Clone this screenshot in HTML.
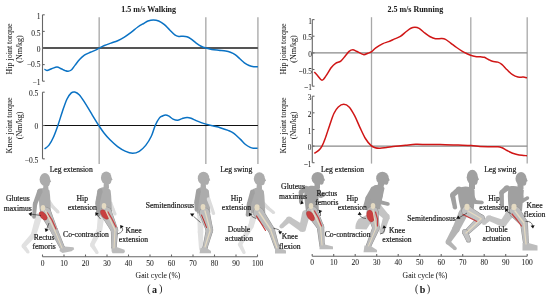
<!DOCTYPE html>
<html><head><meta charset="utf-8"><style>
html,body{margin:0;padding:0;background:#fff;width:550px;height:299px;overflow:hidden}
svg{display:block}
text{font-family:"Liberation Serif","Noto Serif CJK SC",serif;fill:#1a1a1a;stroke:#1a1a1a;stroke-width:0.04px}
</style></head><body>
<svg width="550" height="299" viewBox="0 0 550 299">
<rect width="550" height="299" fill="#fff"/>
<g fill="#e1e1e1"><polygon points="35.88,215.10 30.86,234.24 36.14,235.76 42.12,216.90"/><polygon points="31.47,233.15 21.95,244.59 25.05,247.41 35.53,236.85"/><polygon points="21.82,247.26 26.72,252.96 29.28,251.04 25.18,244.74"/><circle cx="39" cy="216" r="3.25"/><circle cx="33.5" cy="235" r="2.75"/><circle cx="23.5" cy="246" r="2.10"/><circle cx="28" cy="252" r="1.60"/></g><g fill="#dcdcdc"><polygon points="46.98,202.14 51.72,207.96 54.28,206.04 50.02,199.86"/><polygon points="51.87,208.13 56.87,213.13 59.13,210.87 54.13,205.87"/><circle cx="48.5" cy="201" r="1.90"/><circle cx="53" cy="207" r="1.60"/><circle cx="58" cy="212" r="1.60"/></g><ellipse cx="44.87" cy="179.52" rx="5.25" ry="6.50" fill="#acacac"/><path d="M47.30,177.60 L50.10,179.40 L51.20,181.68 L50.00,182.40 C49.80,185.20 48.80,186.30 47.30,186.30 L44.87,185.00Z" fill="#acacac"/><polygon points="43.5,184 48,184 48.5,189.5 43,189.5" fill="#acacac"/><path d="M39.5,189 C43,187.5 47,187.5 49.5,190.5 C50.5,197 50.5,205 51,213 L40.5,214 C39,207 38.5,197 39.5,189Z" fill="#acacac"/><g fill="#a1a1a1"><polygon points="37.57,190.07 32.95,203.21 37.05,204.79 42.43,191.93"/><polygon points="32.81,203.83 32.21,216.86 35.79,217.14 37.19,204.17"/><circle cx="40" cy="191" r="2.60"/><circle cx="35" cy="204" r="2.20"/><circle cx="34" cy="217" r="1.80"/></g><g fill="#8e8e8e"><polygon points="40.37,214.99 51.17,232.62 57.83,229.38 50.63,210.01"/><polygon points="51.15,232.58 60.19,249.09 64.81,246.91 57.85,229.42"/><circle cx="45.5" cy="212.5" r="5.70"/><circle cx="54.5" cy="231" r="3.70"/><circle cx="62.5" cy="248" r="2.55"/></g><g fill="#bcbcbc"><polygon points="40.78,214.80 51.58,232.42 57.42,229.58 50.22,210.20"/><polygon points="51.56,232.38 60.60,248.89 64.40,247.11 57.44,229.62"/><circle cx="45.5" cy="212.5" r="5.25"/><circle cx="54.5" cy="231" r="3.25"/><circle cx="62.5" cy="248" r="2.10"/></g><polygon points="60.5,246.5 64.5,246.5 73.5,247.3 74.2,249.3 71.5,251.3 62.5,253 59.5,251" fill="#bcbcbc"/><ellipse cx="43" cy="208" rx="2.3" ry="2.9" fill="#e4dac2"/><ellipse cx="43.2" cy="215.8" rx="5" ry="2.8" transform="rotate(48 43.2 215.8)" fill="#c84040" stroke="#a83030" stroke-width="0.4"/><polyline points="47.5,213 52,220 56,229" fill="none" stroke="#c84040" stroke-width="1.2" stroke-linecap="round" stroke-linejoin="round"/><polyline points="45.5,211 55,231" fill="none" stroke="#e4dac2" stroke-width="1.25" stroke-linecap="round" stroke-linejoin="round"/><polyline points="55,231 62,248" fill="none" stroke="#e4dac2" stroke-width="1.0" stroke-linecap="round" stroke-linejoin="round"/><path d="M41,215.5L31.04,214.14" stroke="#222" stroke-width="0.6"/><polygon points="28.50,213.80 31.96,212.08 31.38,216.39" fill="#111"/><path d="M49,223L46.50,229.61" stroke="#222" stroke-width="0.6"/><polygon points="45.60,232.00 44.70,228.24 48.77,229.78" fill="#111"/><g fill="#e1e1e1"><polygon points="97.77,216.63 96.77,229.68 102.23,230.32 104.23,217.37"/><polygon points="97.04,228.77 90.12,244.06 93.88,245.94 101.96,231.23"/><polygon points="90.25,246.16 95.67,253.39 98.33,251.61 93.75,243.84"/><circle cx="101" cy="217" r="3.25"/><circle cx="99.5" cy="230" r="2.75"/><circle cx="92" cy="245" r="2.10"/><circle cx="97" cy="252.5" r="1.60"/></g><g fill="#dcdcdc"><polygon points="108.84,203.69 111.52,209.62 114.48,208.38 112.16,202.31"/><polygon points="111.51,209.59 113.51,214.59 116.49,213.41 114.49,208.41"/><circle cx="110.5" cy="203" r="1.80"/><circle cx="113" cy="209" r="1.60"/><circle cx="115" cy="214" r="1.60"/></g><ellipse cx="106.22" cy="177.79" rx="5.30" ry="6.25" fill="#acacac"/><path d="M108.70,175.95 L111.50,177.68 L112.60,179.86 L111.40,180.55 C111.20,183.20 110.20,184.30 108.70,184.30 L106.22,183.00Z" fill="#acacac"/><polygon points="103.8,183 108.8,183 109,188.5 103.5,188.5" fill="#acacac"/><path d="M99.5,188.5 C103,186.5 108,186.5 110.6,190.5 C111.6,197 111.5,205 112,213 L96.5,214 C95.5,206 95.5,196 99.5,188.5Z" fill="#acacac"/><g fill="#a1a1a1"><polygon points="97.45,190.47 95.35,202.55 99.65,203.45 102.55,191.53"/><polygon points="95.31,203.18 96.71,215.15 100.29,214.85 99.69,202.82"/><circle cx="100" cy="191" r="2.60"/><circle cx="97.5" cy="203" r="2.20"/><circle cx="98.5" cy="215" r="1.80"/></g><g fill="#8e8e8e"><polygon points="100.65,215.10 111.17,231.62 117.83,228.38 111.35,209.90"/><polygon points="110.80,229.90 111.45,247.93 116.55,248.07 118.20,230.10"/><circle cx="106" cy="212.5" r="5.95"/><circle cx="114.5" cy="230" r="3.70"/><circle cx="114" cy="248" r="2.55"/></g><g fill="#bcbcbc"><polygon points="101.05,214.90 111.58,231.42 117.42,228.58 110.95,210.10"/><polygon points="111.25,229.91 111.90,247.94 116.10,248.06 117.75,230.09"/><circle cx="106" cy="212.5" r="5.50"/><circle cx="114.5" cy="230" r="3.25"/><circle cx="114" cy="248" r="2.10"/></g><polygon points="112,246.5 116.5,247 124.5,249.8 125,252 123.5,253.2 112.5,253.2 111.5,251" fill="#bcbcbc"/><ellipse cx="104" cy="206" rx="2.3" ry="2.9" fill="#e4dac2"/><ellipse cx="104.7" cy="214.5" rx="5.6" ry="3" transform="rotate(50 104.7 214.5)" fill="#c84040" stroke="#a83030" stroke-width="0.4"/><polyline points="108,212 112,219 116,227" fill="none" stroke="#c84040" stroke-width="1.2" stroke-linecap="round" stroke-linejoin="round"/><polyline points="106,211 115,230" fill="none" stroke="#e4dac2" stroke-width="1.25" stroke-linecap="round" stroke-linejoin="round"/><polyline points="115,230 114,248" fill="none" stroke="#e4dac2" stroke-width="1.0" stroke-linecap="round" stroke-linejoin="round"/><path d="M100.5,219 Q98.5,216.5 96.75,214.21" fill="none" stroke="#222" stroke-width="0.6"/><polygon points="95.30,212.30 98.74,213.45 95.50,215.92" fill="#111"/><path d="M117.5,234 Q125,231.5 121.63,226.93" fill="none" stroke="#222" stroke-width="0.6"/><polygon points="120.20,225.00 123.62,226.20 120.34,228.63" fill="#111"/><g fill="#e1e1e1"><polygon points="197.25,214.00 197.75,232.00 203.25,232.00 203.75,214.00"/><polygon points="197.75,232.08 199.00,249.06 203.00,248.94 203.25,231.92"/><circle cx="200.5" cy="214" r="3.25"/><circle cx="200.5" cy="232" r="2.75"/><circle cx="201" cy="249" r="2.00"/></g><ellipse cx="203.49" cy="178.13" rx="5.70" ry="6.40" fill="#acacac"/><path d="M206.40,176.24 L209.20,178.01 L210.30,180.25 L209.10,180.96 C208.90,183.70 207.90,184.80 206.40,184.80 L203.49,183.50Z" fill="#acacac"/><polygon points="200.8,183 205.8,183 206,188.5 200.5,188.5" fill="#acacac"/><path d="M198,188.5 C201,186.5 206,187 208.8,190.5 C209.8,197 209.8,205 210.3,213 L197,213.5 C196,206 195.5,196 198,188.5Z" fill="#acacac"/><g fill="#a1a1a1"><polygon points="196.14,190.57 194.34,201.61 198.66,202.39 200.86,191.43"/><polygon points="194.30,202.00 194.70,210.00 198.30,210.00 198.70,202.00"/><circle cx="198.5" cy="191" r="2.40"/><circle cx="196.5" cy="202" r="2.20"/><circle cx="196.5" cy="210" r="1.80"/></g><g fill="#dcdcdc"><polygon points="206.81,199.63 210.00,207.56 213.00,206.44 210.19,198.37"/><polygon points="209.97,207.47 211.97,213.97 215.03,213.03 213.03,206.53"/><circle cx="208.5" cy="199" r="1.80"/><circle cx="211.5" cy="207" r="1.60"/><circle cx="213.5" cy="213.5" r="1.60"/></g><g fill="#8e8e8e"><polygon points="199.27,214.54 205.95,231.04 213.05,228.96 209.73,211.46"/><polygon points="205.91,229.10 202.53,247.38 207.47,248.62 213.09,230.90"/><circle cx="204.5" cy="213" r="5.45"/><circle cx="209.5" cy="230" r="3.70"/><circle cx="205" cy="248" r="2.55"/></g><g fill="#bcbcbc"><polygon points="199.70,214.41 206.38,230.92 212.62,229.08 209.30,211.59"/><polygon points="206.35,229.21 202.96,247.49 207.04,248.51 212.65,230.79"/><circle cx="204.5" cy="213" r="5.00"/><circle cx="209.5" cy="230" r="3.25"/><circle cx="205" cy="248" r="2.10"/></g><polygon points="200.5,248 206,247.5 211,251 211,253.2 199.5,253.2" fill="#bcbcbc"/><ellipse cx="203" cy="207" rx="2.4" ry="3" fill="#e4dac2"/><polyline points="201.5,215 204,221 206.5,227.5" fill="none" stroke="#c02828" stroke-width="1.0" stroke-linecap="round" stroke-linejoin="round"/><polyline points="205,211 210,230" fill="none" stroke="#e4dac2" stroke-width="1.3" stroke-linecap="round" stroke-linejoin="round"/><polyline points="210,231 205,247" fill="none" stroke="#e4dac2" stroke-width="1.2" stroke-linecap="round" stroke-linejoin="round"/><polygon points="192.20,216.80 190.02,213.60 194.38,213.60" fill="#111"/><path d="M193.5,216.3L200.5,222.5" stroke="#222" stroke-width="0.6"/><g fill="#e1e1e1"><polygon points="250.86,214.14 248.35,225.28 253.65,226.72 257.14,215.86"/><polygon points="248.64,224.59 238.19,243.43 241.81,245.57 253.36,227.41"/><polygon points="238.12,245.44 242.57,253.22 245.43,251.78 241.88,243.56"/><circle cx="254" cy="215" r="3.25"/><circle cx="251" cy="226" r="2.75"/><circle cx="240" cy="244.5" r="2.10"/><circle cx="244" cy="252.5" r="1.60"/></g><g fill="#dcdcdc"><polygon points="262.16,204.84 266.80,209.20 269.20,206.80 264.84,202.16"/><polygon points="266.92,209.32 272.49,213.74 274.51,211.26 269.08,206.68"/><circle cx="263.5" cy="203.5" r="1.90"/><circle cx="268" cy="208" r="1.70"/><circle cx="273.5" cy="212.5" r="1.60"/></g><ellipse cx="259.40" cy="178.68" rx="5.60" ry="6.35" fill="#acacac"/><path d="M262.20,176.81 L265.00,178.56 L266.10,180.79 L264.90,181.49 C264.70,184.20 263.70,185.30 262.20,185.30 L259.40,184.00Z" fill="#acacac"/><polygon points="256.8,184 261.8,184 262,189 256.5,189" fill="#acacac"/><path d="M253,189 C256,187 261,187.5 263.8,191 C264.8,197 264.8,205 265.3,213 L250.5,213 C249.5,206 249.5,196 253,189Z" fill="#acacac"/><g fill="#a1a1a1"><polygon points="250.20,191.33 246.89,203.38 251.11,204.62 254.80,192.67"/><polygon points="246.82,203.70 245.72,214.76 249.28,215.24 251.18,204.30"/><circle cx="252.5" cy="192" r="2.40"/><circle cx="249" cy="204" r="2.20"/><circle cx="247.5" cy="215" r="1.80"/></g><g fill="#8e8e8e"><polygon points="254.13,215.75 268.73,232.06 274.27,227.94 262.87,209.25"/><polygon points="268.21,231.04 275.16,249.74 279.84,248.26 274.79,228.96"/><circle cx="258.5" cy="212.5" r="5.45"/><circle cx="271.5" cy="230" r="3.45"/><circle cx="277.5" cy="249" r="2.45"/></g><g fill="#bcbcbc"><polygon points="254.49,215.48 269.09,231.79 273.91,228.21 262.51,209.52"/><polygon points="268.64,230.90 275.59,249.60 279.41,248.40 274.36,229.10"/><circle cx="258.5" cy="212.5" r="5.00"/><circle cx="271.5" cy="230" r="3.00"/><circle cx="277.5" cy="249" r="2.00"/></g><polygon points="275,248.5 280,248 286,250.5 286,253.5 275,253.5" fill="#bcbcbc"/><ellipse cx="257" cy="207.5" rx="2.6" ry="3.2" fill="#e4dac2"/><polyline points="256.5,216 261.5,224 265.5,230.5" fill="none" stroke="#c53434" stroke-width="1.1" stroke-linecap="round" stroke-linejoin="round"/><polyline points="259,212 271,230" fill="none" stroke="#e4dac2" stroke-width="1.4" stroke-linecap="round" stroke-linejoin="round"/><polyline points="271,231 277,248" fill="none" stroke="#e4dac2" stroke-width="1.2" stroke-linecap="round" stroke-linejoin="round"/><path d="M256,218.5 Q252.5,217.5 250.43,214.72" fill="none" stroke="#222" stroke-width="0.6"/><polygon points="249.00,212.80 252.43,213.99 249.16,216.42" fill="#111"/><path d="M273.5,228.3 Q280.5,229.5 280.24,232.01" fill="none" stroke="#222" stroke-width="0.6"/><polygon points="280.00,234.40 278.28,231.21 282.33,231.62" fill="#111"/><g fill="#c4c4c4"><polygon points="302.11,213.06 299.10,227.68 305.90,229.32 309.89,214.94"/><polygon points="304.44,225.59 290.61,217.09 287.39,221.91 300.56,231.41"/><polygon points="287.02,217.38 280.07,224.96 282.93,228.04 290.98,221.62"/><circle cx="306" cy="214" r="4.00"/><circle cx="302.5" cy="228.5" r="3.50"/><circle cx="289" cy="219.5" r="2.90"/><circle cx="281.5" cy="226.5" r="2.10"/></g><ellipse cx="317.76" cy="178.24" rx="6.20" ry="6.30" fill="#a0a0a0"/><path d="M321.20,176.38 L324.00,178.12 L325.10,180.32 L323.90,181.02 C323.70,183.70 322.70,184.80 321.20,184.80 L317.76,183.50Z" fill="#a0a0a0"/><polygon points="314.5,183 320,183 320,188 314.5,188" fill="#a0a0a0"/><path d="M305,187.5 C310,185 316,185 319.5,188 C318.5,195 318,202 319,211 L306,211.5 C305,203 303.5,194 305,187.5Z" fill="#a0a0a0"/><g fill="#a0a0a0"><polygon points="304.42,186.25 299.68,190.12 302.32,193.88 307.58,190.75"/><polygon points="298.70,192.00 299.00,202.00 303.00,202.00 303.30,192.00"/><circle cx="306" cy="188.5" r="2.75"/><circle cx="301" cy="192" r="2.30"/><circle cx="301" cy="202" r="2.00"/></g><g fill="#a0a0a0"><polygon points="315.26,191.12 318.62,196.94 322.38,195.06 319.74,188.88"/><polygon points="321.16,197.99 324.07,196.71 322.93,193.29 319.84,194.01"/><circle cx="317.5" cy="190" r="2.50"/><circle cx="320.5" cy="196" r="2.10"/><circle cx="323.5" cy="195" r="1.80"/></g><g fill="#8e8e8e"><polygon points="306.82,214.93 317.28,228.82 323.72,225.18 317.18,209.07"/><polygon points="316.81,227.31 319.31,245.22 324.69,244.78 324.19,226.69"/><circle cx="312" cy="212" r="5.95"/><circle cx="320.5" cy="227" r="3.70"/><circle cx="322" cy="245" r="2.70"/></g><g fill="#bcbcbc"><polygon points="307.21,214.71 317.67,228.60 323.33,225.40 316.79,209.29"/><polygon points="317.26,227.27 319.76,245.19 324.24,244.81 323.74,226.73"/><circle cx="312" cy="212" r="5.50"/><circle cx="320.5" cy="227" r="3.25"/><circle cx="322" cy="245" r="2.25"/></g><polygon points="319.5,244 325,244.5 333,246.5 333,249.2 319.5,249.2" fill="#bcbcbc"/><ellipse cx="311" cy="206" rx="2.3" ry="2.9" fill="#e4dac2"/><ellipse cx="310.5" cy="216" rx="5.5" ry="3" transform="rotate(55 310.5 216)" fill="#c84040" stroke="#a83030" stroke-width="0.4"/><polyline points="314.5,211 318.5,218 321.5,226" fill="none" stroke="#c84040" stroke-width="1.2" stroke-linecap="round" stroke-linejoin="round"/><polyline points="312,210 320.5,227" fill="none" stroke="#e4dac2" stroke-width="1.25" stroke-linecap="round" stroke-linejoin="round"/><polyline points="320.5,227 322,245" fill="none" stroke="#e4dac2" stroke-width="1.0" stroke-linecap="round" stroke-linejoin="round"/><polygon points="303.80,203.20 300.37,204.39 301.43,200.45" fill="#111"/><path d="M320.5,216 Q320.5,212 320.27,211.70" fill="none" stroke="#222" stroke-width="0.6"/><polygon points="318.80,209.80 322.25,210.93 319.02,213.42" fill="#111"/><path d="M371,211 L366.5,215 L358.5,219 C356,222 355,226 355.5,229 L366.5,229.5 C369,226 372,221 374,215Z" fill="#c4c4c4"/><g fill="#c4c4c4"><polygon points="374.32,211.18 384.20,219.30 388.80,214.70 380.68,204.82"/><polygon points="383.40,216.04 379.61,230.76 384.39,232.24 389.60,217.96"/><circle cx="377.5" cy="208" r="4.50"/><circle cx="386.5" cy="217" r="3.25"/><circle cx="382" cy="231.5" r="2.50"/></g><ellipse cx="382.41" cy="178.13" rx="6.25" ry="6.40" fill="#a0a0a0"/><path d="M385.90,176.24 L388.70,178.01 L389.80,180.25 L388.60,180.96 C388.40,183.70 387.40,184.80 385.90,184.80 L382.41,183.50Z" fill="#a0a0a0"/><polygon points="378,183 384.5,183 383,189 377,188" fill="#a0a0a0"/><path d="M374,185.5 C378,184.5 382,185 384.5,188 C383.5,194 381.5,200 380,209 L367,210.5 C364.5,205 366.5,194 374,185.5Z" fill="#a0a0a0"/><g fill="#a0a0a0"><polygon points="371.15,187.57 365.87,196.70 370.13,199.30 375.85,190.43"/><polygon points="365.61,197.25 363.50,205.37 367.50,206.63 370.39,198.75"/><circle cx="373.5" cy="189" r="2.75"/><circle cx="368" cy="198" r="2.50"/><circle cx="365.5" cy="206" r="2.10"/></g><g fill="#a0a0a0"><polygon points="378.27,194.68 377.52,201.72 381.48,202.28 382.73,195.32"/><polygon points="379.04,203.95 387.60,205.70 388.40,202.30 379.96,200.05"/><circle cx="380.5" cy="195" r="2.25"/><circle cx="379.5" cy="202" r="2.00"/><circle cx="388" cy="204" r="1.75"/></g><g fill="#8e8e8e"><polygon points="366.69,213.27 372.39,228.79 379.61,227.21 378.31,210.73"/><polygon points="372.58,226.58 366.01,244.96 370.99,247.04 379.42,229.42"/><circle cx="372.5" cy="212" r="5.95"/><circle cx="376" cy="228" r="3.70"/><circle cx="368.5" cy="246" r="2.70"/></g><g fill="#bcbcbc"><polygon points="367.13,213.18 372.83,228.69 379.17,227.31 377.87,210.82"/><polygon points="373.00,226.75 366.42,245.13 370.58,246.87 379.00,229.25"/><circle cx="372.5" cy="212" r="5.50"/><circle cx="376" cy="228" r="3.25"/><circle cx="368.5" cy="246" r="2.25"/></g><polygon points="364.5,245.5 370,245.5 377,250 377,252.3 363.5,252.3" fill="#bcbcbc"/><ellipse cx="373" cy="206" rx="2.3" ry="2.9" fill="#e4dac2"/><ellipse cx="370.5" cy="216" rx="6" ry="3.6" transform="rotate(75 370.5 216)" fill="#c84040" stroke="#a83030" stroke-width="0.4"/><polyline points="375.5,212 377.5,219 377.5,226" fill="none" stroke="#c84040" stroke-width="1.2" stroke-linecap="round" stroke-linejoin="round"/><polyline points="373,210 376,228" fill="none" stroke="#e4dac2" stroke-width="1.25" stroke-linecap="round" stroke-linejoin="round"/><polyline points="376,228 368.5,246" fill="none" stroke="#e4dac2" stroke-width="1.0" stroke-linecap="round" stroke-linejoin="round"/><path d="M366,218.5 Q360,218 359.69,214.19" fill="none" stroke="#222" stroke-width="0.6"/><polygon points="359.50,211.80 361.77,214.63 357.71,214.95" fill="#111"/><path d="M380,234 Q385.5,233 384.31,227.54" fill="none" stroke="#222" stroke-width="0.6"/><polygon points="383.80,225.20 386.43,227.70 382.45,228.57" fill="#111"/><g fill="#b4b4b4"><polygon points="459.20,210.98 452.60,227.41 459.40,230.59 467.80,215.02"/><polygon points="452.81,227.03 445.87,240.69 450.13,243.31 459.19,230.97"/><polygon points="446.30,243.83 453.78,249.82 456.22,247.18 449.70,240.17"/><circle cx="463.5" cy="213" r="4.75"/><circle cx="456" cy="229" r="3.75"/><circle cx="448" cy="242" r="2.50"/><circle cx="455" cy="248.5" r="1.80"/></g><ellipse cx="472.30" cy="177.16" rx="5.60" ry="7.30" fill="#a0a0a0"/><path d="M475.10,174.98 L477.90,177.02 L479.00,179.60 L477.80,180.42 C477.60,183.70 476.60,184.80 475.10,184.80 L472.30,183.50Z" fill="#a0a0a0"/><polygon points="469,183 475,183 475,189 469,189" fill="#a0a0a0"/><path d="M458.5,188 C464,185.5 470,186 474.5,189.5 C475,196 474.5,203 473.5,211 L461.5,212 C459.5,204 457,195 458.5,188Z" fill="#a0a0a0"/><g fill="#a0a0a0"><polygon points="457.13,187.29 450.89,193.09 454.11,196.91 460.87,191.71"/><polygon points="450.05,195.49 452.94,207.91 457.06,207.09 454.95,194.51"/><circle cx="459" cy="189.5" r="2.90"/><circle cx="452.5" cy="195" r="2.50"/><circle cx="455" cy="207.5" r="2.10"/></g><g fill="#a0a0a0"><polygon points="469.99,197.01 473.21,202.89 476.79,201.11 474.01,194.99"/><polygon points="474.86,203.99 481.88,204.25 482.12,200.75 475.14,200.01"/><circle cx="472" cy="196" r="2.25"/><circle cx="475" cy="202" r="2.00"/><circle cx="482" cy="202.5" r="1.75"/></g><g fill="#8e8e8e"><polygon points="464.43,215.80 479.13,221.98 482.87,215.02 469.57,206.20"/><polygon points="478.25,215.66 464.02,230.95 467.98,235.05 483.75,221.34"/><circle cx="467" cy="211" r="5.45"/><circle cx="481" cy="218.5" r="3.95"/><circle cx="466" cy="233" r="2.85"/></g><g fill="#c2c2c2"><polygon points="464.64,215.41 479.35,221.59 482.65,215.41 469.36,206.59"/><polygon points="478.57,215.98 464.33,231.27 467.67,234.73 483.43,221.02"/><circle cx="467" cy="211" r="5.00"/><circle cx="481" cy="218.5" r="3.50"/><circle cx="466" cy="233" r="2.40"/></g><g fill="#8e8e8e"><polygon points="462.30,233.18 466.16,241.02 470.84,238.98 467.70,230.82"/><circle cx="465" cy="232" r="2.95"/><circle cx="468.5" cy="240" r="2.55"/></g><g fill="#c2c2c2"><polygon points="462.71,233.00 466.58,240.84 470.42,239.16 467.29,231.00"/><circle cx="465" cy="232" r="2.50"/><circle cx="468.5" cy="240" r="2.10"/></g><ellipse cx="467" cy="207" rx="2.6" ry="3.2" fill="#e4dac2"/><polyline points="463,214.5 470,218 477,221.5" fill="none" stroke="#c84040" stroke-width="1.1" stroke-linecap="round" stroke-linejoin="round"/><polyline points="468,211 481,218.5" fill="none" stroke="#e4dac2" stroke-width="1.4" stroke-linecap="round" stroke-linejoin="round"/><polyline points="481,219 466,233" fill="none" stroke="#e4dac2" stroke-width="1.2" stroke-linecap="round" stroke-linejoin="round"/><polygon points="458.30,215.50 460.48,218.70 456.12,218.70" fill="#111"/><path d="M459.5,217.5L467,213" stroke="#222" stroke-width="0.6"/><g fill="#c4c4c4"><polygon points="505.73,212.69 500.14,221.48 505.86,225.52 512.27,217.31"/><polygon points="504.28,220.24 490.01,215.44 487.99,220.56 501.72,226.76"/><polygon points="487.06,216.06 482.59,221.59 485.41,224.41 490.94,219.94"/><circle cx="509" cy="215" r="4.00"/><circle cx="503" cy="223.5" r="3.50"/><circle cx="489" cy="218" r="2.75"/><circle cx="484" cy="223" r="2.00"/></g><ellipse cx="521.05" cy="178.70" rx="5.55" ry="6.80" fill="#a0a0a0"/><path d="M523.80,176.68 L526.60,178.57 L527.70,180.96 L526.50,181.72 C526.30,184.70 525.30,185.80 523.80,185.80 L521.05,184.50Z" fill="#a0a0a0"/><polygon points="517.5,184 523.5,184 523.5,189 517.5,189" fill="#a0a0a0"/><path d="M509,186.5 C514,185.5 520,186 523.8,190 C523.5,197 522.5,204 522,211 L509.5,212 C508,204 507,194 509,186.5Z" fill="#a0a0a0"/><g fill="#a0a0a0"><polygon points="505.26,185.87 500.04,190.72 502.96,194.28 508.74,190.13"/><polygon points="499.20,192.59 500.00,206.07 504.00,205.93 503.80,192.41"/><circle cx="507" cy="188" r="2.75"/><circle cx="501.5" cy="192.5" r="2.30"/><circle cx="502" cy="206" r="2.00"/></g><g fill="#a0a0a0"><polygon points="518.79,196.44 520.04,201.39 523.96,200.61 523.21,195.56"/><polygon points="522.96,202.76 528.34,199.54 526.66,196.46 521.04,199.24"/><circle cx="521" cy="196" r="2.25"/><circle cx="522" cy="201" r="2.00"/><circle cx="527.5" cy="198" r="1.75"/></g><g fill="#8e8e8e"><polygon points="510.39,215.77 520.94,225.50 527.06,220.50 519.61,208.23"/><polygon points="520.07,223.37 523.16,244.27 528.84,243.73 527.93,222.63"/><circle cx="515" cy="212" r="5.95"/><circle cx="524" cy="223" r="3.95"/><circle cx="526" cy="244" r="2.85"/></g><g fill="#bcbcbc"><polygon points="510.74,215.48 521.29,225.22 526.71,220.78 519.26,208.52"/><polygon points="520.52,223.33 523.61,244.23 528.39,243.77 527.48,222.67"/><circle cx="515" cy="212" r="5.50"/><circle cx="524" cy="223" r="3.50"/><circle cx="526" cy="244" r="2.40"/></g><polygon points="522.5,243 528.5,243 537.5,245.5 537.5,250.5 522.5,250.5" fill="#bcbcbc"/><ellipse cx="514" cy="207" rx="2.6" ry="3.2" fill="#e4dac2"/><polyline points="512,214 517,220 521.5,226" fill="none" stroke="#c84040" stroke-width="1.2" stroke-linecap="round" stroke-linejoin="round"/><polyline points="515,211 524,223" fill="none" stroke="#e4dac2" stroke-width="1.4" stroke-linecap="round" stroke-linejoin="round"/><polyline points="524,224 526,244" fill="none" stroke="#e4dac2" stroke-width="1.2" stroke-linecap="round" stroke-linejoin="round"/><path d="M511,213.5 Q507.5,212.5 506.53,210.47" fill="none" stroke="#222" stroke-width="0.6"/><polygon points="505.50,208.30 508.63,210.13 504.95,211.89" fill="#111"/><path d="M525.5,221.4 Q532,221 532.68,226.12" fill="none" stroke="#222" stroke-width="0.6"/><polygon points="533.00,228.50 530.58,225.80 534.63,225.26" fill="#111"/>
<path d="M99.2,17.2V164" stroke="#b6b6b6" stroke-width="1.6"/><path d="M205.8,17.2V164" stroke="#b6b6b6" stroke-width="1.6"/><path d="M257.9,17.2V164" stroke="#b6b6b6" stroke-width="1.6"/><path d="M371.5,17.2V163.6" stroke="#a8a8a8" stroke-width="1.3"/><path d="M470.8,17.2V163.6" stroke="#a8a8a8" stroke-width="1.3"/><path d="M527.2,17.2V163.6" stroke="#a8a8a8" stroke-width="1.3"/><path d="M42.5,48H257.9" stroke="#555" stroke-width="1.9"/><path d="M42.5,125.5H257.9" stroke="#111" stroke-width="1.2"/><path d="M312.3,52.9H527.2" stroke="#8a8a8a" stroke-width="1.4"/><path d="M312.3,146.1H527.2" stroke="#8a8a8a" stroke-width="1.3"/><path d="M42.5,14.8V81.2" stroke="#666" stroke-width="1.1" fill="none"/><path d="M42.5,14.8h2.2" stroke="#666" stroke-width="1.1"/><path d="M42.5,31.4h2.2" stroke="#666" stroke-width="1.1"/><path d="M42.5,48h2.2" stroke="#666" stroke-width="1.1"/><path d="M42.5,64.6h2.2" stroke="#666" stroke-width="1.1"/><path d="M42.5,81.2h2.2" stroke="#666" stroke-width="1.1"/><text x="40.5" y="19.10" text-anchor="end" font-size="7.5">1</text><text x="40.5" y="35.70" text-anchor="end" font-size="7.5">0.5</text><text x="40.5" y="52.30" text-anchor="end" font-size="7.5">0</text><text x="40.5" y="67.40" text-anchor="end" font-size="7.5">−0.5</text><text x="40.5" y="84.80" text-anchor="end" font-size="7.5">−1</text><path d="M42.5,92.2V158.8" stroke="#666" stroke-width="1.1" fill="none"/><path d="M42.5,92.2h2.2" stroke="#666" stroke-width="1.1"/><path d="M42.5,125.5h2.2" stroke="#666" stroke-width="1.1"/><path d="M42.5,158.8h2.2" stroke="#666" stroke-width="1.1"/><text x="38.3" y="96.10" text-anchor="end" font-size="7.5">0.5</text><text x="38.3" y="129.40" text-anchor="end" font-size="7.5">0</text><text x="38.3" y="162.70" text-anchor="end" font-size="7.5">−0.5</text><path d="M312.3,19.6V86.2" stroke="#666" stroke-width="1.1" fill="none"/><path d="M312.3,19.6h2.2" stroke="#666" stroke-width="1.1"/><path d="M312.3,36.2h2.2" stroke="#666" stroke-width="1.1"/><path d="M312.3,52.9h2.2" stroke="#666" stroke-width="1.1"/><path d="M312.3,69.5h2.2" stroke="#666" stroke-width="1.1"/><path d="M312.3,86.2h2.2" stroke="#666" stroke-width="1.1"/><text x="311.8" y="23.70" text-anchor="end" font-size="7.3">1</text><text x="311.8" y="40.30" text-anchor="end" font-size="7.3">0.5</text><text x="311.8" y="57.00" text-anchor="end" font-size="7.3">0</text><text x="311.8" y="73.60" text-anchor="end" font-size="7.3">−0.5</text><text x="311.8" y="89.50" text-anchor="end" font-size="7.3">−1</text><path d="M312.3,96.2V162.7" stroke="#666" stroke-width="1.1" fill="none"/><path d="M312.3,96.2h2.2" stroke="#666" stroke-width="1.1"/><path d="M312.3,112.8h2.2" stroke="#666" stroke-width="1.1"/><path d="M312.3,129.5h2.2" stroke="#666" stroke-width="1.1"/><path d="M312.3,146.1h2.2" stroke="#666" stroke-width="1.1"/><path d="M312.3,162.7h2.2" stroke="#666" stroke-width="1.1"/><text x="311.4" y="100.30" text-anchor="end" font-size="7.3">3</text><text x="311.4" y="116.90" text-anchor="end" font-size="7.3">2</text><text x="311.4" y="133.60" text-anchor="end" font-size="7.3">1</text><text x="311.4" y="150.20" text-anchor="end" font-size="7.3">0</text><text x="311.4" y="166.80" text-anchor="end" font-size="7.3">−1</text><path d="M42.5,256.7H257.50" stroke="#666" stroke-width="1.1" fill="none"/><path d="M42.50,256.7v-2.2" stroke="#666" stroke-width="1.1"/><text x="42.50" y="265.5" text-anchor="middle" font-size="7.5">0</text><path d="M64.00,256.7v-2.2" stroke="#666" stroke-width="1.1"/><text x="64.00" y="265.5" text-anchor="middle" font-size="7.5">10</text><path d="M85.50,256.7v-2.2" stroke="#666" stroke-width="1.1"/><text x="85.50" y="265.5" text-anchor="middle" font-size="7.5">20</text><path d="M107.00,256.7v-2.2" stroke="#666" stroke-width="1.1"/><text x="107.00" y="265.5" text-anchor="middle" font-size="7.5">30</text><path d="M128.50,256.7v-2.2" stroke="#666" stroke-width="1.1"/><text x="128.50" y="265.5" text-anchor="middle" font-size="7.5">40</text><path d="M150.00,256.7v-2.2" stroke="#666" stroke-width="1.1"/><text x="150.00" y="265.5" text-anchor="middle" font-size="7.5">50</text><path d="M171.50,256.7v-2.2" stroke="#666" stroke-width="1.1"/><text x="171.50" y="265.5" text-anchor="middle" font-size="7.5">60</text><path d="M193.00,256.7v-2.2" stroke="#666" stroke-width="1.1"/><text x="193.00" y="265.5" text-anchor="middle" font-size="7.5">70</text><path d="M214.50,256.7v-2.2" stroke="#666" stroke-width="1.1"/><text x="214.50" y="265.5" text-anchor="middle" font-size="7.5">80</text><path d="M236.00,256.7v-2.2" stroke="#666" stroke-width="1.1"/><text x="236.00" y="265.5" text-anchor="middle" font-size="7.5">90</text><path d="M257.50,256.7v-2.2" stroke="#666" stroke-width="1.1"/><text x="257.50" y="265.5" text-anchor="middle" font-size="7.5">100</text><path d="M312.2,256.2H527.20" stroke="#666" stroke-width="1.1" fill="none"/><path d="M312.20,256.2v-2.2" stroke="#666" stroke-width="1.1"/><text x="312.20" y="265.2" text-anchor="middle" font-size="7.5">0</text><path d="M333.70,256.2v-2.2" stroke="#666" stroke-width="1.1"/><text x="333.70" y="265.2" text-anchor="middle" font-size="7.5">10</text><path d="M355.20,256.2v-2.2" stroke="#666" stroke-width="1.1"/><text x="355.20" y="265.2" text-anchor="middle" font-size="7.5">20</text><path d="M376.70,256.2v-2.2" stroke="#666" stroke-width="1.1"/><text x="376.70" y="265.2" text-anchor="middle" font-size="7.5">30</text><path d="M398.20,256.2v-2.2" stroke="#666" stroke-width="1.1"/><text x="398.20" y="265.2" text-anchor="middle" font-size="7.5">40</text><path d="M419.70,256.2v-2.2" stroke="#666" stroke-width="1.1"/><text x="419.70" y="265.2" text-anchor="middle" font-size="7.5">50</text><path d="M441.20,256.2v-2.2" stroke="#666" stroke-width="1.1"/><text x="441.20" y="265.2" text-anchor="middle" font-size="7.5">60</text><path d="M462.70,256.2v-2.2" stroke="#666" stroke-width="1.1"/><text x="462.70" y="265.2" text-anchor="middle" font-size="7.5">70</text><path d="M484.20,256.2v-2.2" stroke="#666" stroke-width="1.1"/><text x="484.20" y="265.2" text-anchor="middle" font-size="7.5">80</text><path d="M505.70,256.2v-2.2" stroke="#666" stroke-width="1.1"/><text x="505.70" y="265.2" text-anchor="middle" font-size="7.5">90</text><path d="M527.20,256.2v-2.2" stroke="#666" stroke-width="1.1"/><text x="527.20" y="265.2" text-anchor="middle" font-size="7.5">100</text><path d="M44.40,69.20 C44.83,69.40 45.78,70.48 47.00,70.40 C48.22,70.32 50.03,69.25 51.70,68.70 C53.37,68.15 55.43,67.10 57.00,67.10 C58.57,67.10 59.75,68.12 61.10,68.70 C62.45,69.28 63.93,70.17 65.10,70.60 C66.27,71.03 67.02,71.43 68.10,71.30 C69.18,71.17 70.43,70.83 71.60,69.80 C72.77,68.77 73.73,66.85 75.10,65.10 C76.47,63.35 78.25,60.95 79.80,59.30 C81.35,57.65 82.65,56.37 84.40,55.20 C86.15,54.03 88.35,53.18 90.30,52.30 C92.25,51.42 94.53,50.65 96.10,49.90 C97.67,49.15 98.32,48.53 99.70,47.80 C101.08,47.07 102.52,46.28 104.40,45.50 C106.28,44.72 108.78,43.90 111.00,43.10 C113.22,42.30 115.47,41.70 117.70,40.70 C119.93,39.70 122.17,38.48 124.40,37.10 C126.63,35.72 128.87,34.08 131.10,32.40 C133.33,30.72 135.65,28.52 137.80,27.00 C139.95,25.48 142.30,24.30 144.00,23.30 C145.70,22.30 146.43,21.55 148.00,21.00 C149.57,20.45 151.62,20.00 153.40,20.00 C155.18,20.00 156.92,20.27 158.70,21.00 C160.48,21.73 162.30,22.95 164.10,24.40 C165.90,25.85 167.72,27.97 169.50,29.70 C171.28,31.43 173.25,33.68 174.80,34.80 C176.35,35.92 177.47,36.17 178.80,36.40 C180.13,36.63 181.45,36.15 182.80,36.20 C184.15,36.25 185.55,36.27 186.90,36.70 C188.25,37.13 189.35,37.73 190.90,38.80 C192.45,39.87 194.42,41.82 196.20,43.10 C197.98,44.38 200.00,45.68 201.60,46.50 C203.20,47.32 204.12,47.52 205.80,48.00 C207.48,48.48 209.55,49.02 211.70,49.40 C213.85,49.78 216.37,50.02 218.70,50.30 C221.03,50.58 223.75,50.77 225.70,51.10 C227.65,51.43 228.83,51.72 230.40,52.30 C231.97,52.88 233.53,53.53 235.10,54.60 C236.67,55.67 238.25,57.33 239.80,58.70 C241.35,60.07 242.85,61.67 244.40,62.80 C245.95,63.93 247.53,64.85 249.10,65.50 C250.67,66.15 252.33,66.50 253.80,66.70 C255.27,66.90 257.22,66.70 257.90,66.70" stroke="#0a72c4" stroke-width="1.5" fill="none"/><path d="M44.50,148.90 C45.25,148.27 47.52,147.05 49.00,145.10 C50.48,143.15 51.92,140.48 53.40,137.20 C54.88,133.92 56.40,129.68 57.90,125.40 C59.40,121.12 60.90,115.87 62.40,111.50 C63.90,107.13 65.42,102.30 66.90,99.20 C68.38,96.10 70.00,94.10 71.30,92.90 C72.60,91.70 73.38,91.70 74.70,92.00 C76.02,92.30 77.52,92.93 79.20,94.70 C80.88,96.47 82.75,99.43 84.80,102.60 C86.85,105.77 89.17,109.88 91.50,113.70 C93.83,117.52 96.72,122.28 98.80,125.50 C100.88,128.72 102.13,130.62 104.00,133.00 C105.87,135.38 107.73,137.53 110.00,139.80 C112.27,142.07 115.08,144.72 117.60,146.60 C120.12,148.48 122.60,149.98 125.10,151.10 C127.60,152.22 130.23,153.27 132.60,153.30 C134.97,153.33 137.12,152.62 139.30,151.30 C141.48,149.98 143.70,147.90 145.70,145.40 C147.70,142.90 149.70,139.67 151.30,136.30 C152.90,132.93 153.93,128.27 155.30,125.20 C156.67,122.13 158.30,119.43 159.50,117.90 C160.70,116.37 161.50,116.48 162.50,116.00 C163.50,115.52 164.42,114.97 165.50,115.00 C166.58,115.03 167.75,115.52 169.00,116.20 C170.25,116.88 171.57,118.42 173.00,119.10 C174.43,119.78 176.08,120.38 177.60,120.30 C179.12,120.22 180.52,119.07 182.10,118.60 C183.68,118.13 185.60,117.55 187.10,117.50 C188.60,117.45 189.60,117.78 191.10,118.30 C192.60,118.82 194.42,119.88 196.10,120.60 C197.78,121.32 199.55,122.02 201.20,122.60 C202.85,123.18 203.97,123.53 206.00,124.10 C208.03,124.67 211.05,125.40 213.40,126.00 C215.75,126.60 217.65,126.97 220.10,127.70 C222.55,128.43 225.87,129.50 228.10,130.40 C230.33,131.30 231.48,131.65 233.50,133.10 C235.52,134.55 238.20,137.20 240.20,139.10 C242.20,141.00 243.83,143.12 245.50,144.50 C247.17,145.88 248.87,146.78 250.20,147.40 C251.53,148.02 252.27,148.07 253.50,148.20 C254.73,148.33 256.92,148.20 257.60,148.20" stroke="#0a72c4" stroke-width="1.5" fill="none"/><path d="M314.20,71.90 C314.75,72.48 316.20,74.00 317.50,75.40 C318.80,76.80 320.62,80.18 322.00,80.30 C323.38,80.42 324.28,78.18 325.80,76.10 C327.32,74.02 329.47,69.93 331.10,67.80 C332.73,65.67 333.98,64.42 335.60,63.30 C337.22,62.18 339.17,62.35 340.80,61.10 C342.43,59.85 344.02,57.43 345.40,55.80 C346.78,54.17 347.85,52.30 349.10,51.30 C350.35,50.30 351.65,49.80 352.90,49.80 C354.15,49.80 354.85,50.50 356.60,51.30 C358.35,52.10 361.52,54.28 363.40,54.60 C365.28,54.92 366.52,53.68 367.90,53.20 C369.28,52.72 370.38,52.60 371.70,51.70 C373.02,50.80 373.93,49.15 375.80,47.80 C377.67,46.45 380.75,44.63 382.90,43.60 C385.05,42.57 386.75,42.38 388.70,41.60 C390.65,40.82 392.65,39.77 394.60,38.90 C396.55,38.03 398.45,37.63 400.40,36.40 C402.35,35.17 404.55,32.87 406.30,31.50 C408.05,30.13 409.45,28.90 410.90,28.20 C412.35,27.50 413.63,27.27 415.00,27.30 C416.37,27.33 417.43,27.42 419.10,28.40 C420.77,29.38 423.23,31.85 425.00,33.20 C426.77,34.55 427.95,35.57 429.70,36.50 C431.45,37.43 433.55,38.47 435.50,38.80 C437.45,39.13 439.73,38.42 441.40,38.50 C443.07,38.58 443.95,38.53 445.50,39.30 C447.05,40.07 448.85,41.73 450.70,43.10 C452.55,44.47 454.65,46.13 456.60,47.50 C458.55,48.87 460.65,50.27 462.40,51.30 C464.15,52.33 465.73,53.05 467.10,53.70 C468.47,54.35 469.23,54.75 470.60,55.20 C471.97,55.65 473.67,56.13 475.30,56.40 C476.93,56.67 478.88,56.65 480.40,56.80 C481.92,56.95 483.07,56.85 484.40,57.30 C485.73,57.75 487.07,58.83 488.40,59.50 C489.73,60.17 490.83,60.87 492.40,61.30 C493.97,61.73 496.23,61.58 497.80,62.10 C499.37,62.62 500.25,63.12 501.80,64.40 C503.35,65.68 505.32,68.08 507.10,69.80 C508.88,71.52 510.70,73.48 512.50,74.70 C514.30,75.92 516.12,76.70 517.90,77.10 C519.68,77.50 521.68,76.98 523.20,77.10 C524.72,77.22 526.37,77.68 527.00,77.80" stroke="#d01616" stroke-width="1.5" fill="none"/><path d="M314.30,153.30 C315.03,152.82 317.42,151.60 318.70,150.40 C319.98,149.20 320.92,148.08 322.00,146.10 C323.08,144.12 323.93,141.95 325.20,138.50 C326.47,135.05 328.15,129.57 329.60,125.40 C331.05,121.23 332.45,116.57 333.90,113.50 C335.35,110.43 336.67,108.53 338.30,107.00 C339.93,105.47 341.90,104.30 343.70,104.30 C345.50,104.30 347.28,105.10 349.10,107.00 C350.92,108.90 352.78,112.27 354.60,115.70 C356.42,119.13 358.20,123.80 360.00,127.60 C361.80,131.40 363.58,135.53 365.40,138.50 C367.22,141.47 369.27,143.85 370.90,145.40 C372.53,146.95 373.68,147.32 375.20,147.80 C376.72,148.28 378.12,148.35 380.00,148.30 C381.88,148.25 383.92,147.85 386.50,147.50 C389.08,147.15 392.32,146.58 395.50,146.20 C398.68,145.82 402.22,145.52 405.60,145.20 C408.98,144.88 412.18,144.42 415.80,144.30 C419.42,144.18 423.27,144.47 427.30,144.50 C431.33,144.53 434.85,144.40 440.00,144.50 C445.15,144.60 452.95,144.92 458.20,145.10 C463.45,145.28 467.87,145.37 471.50,145.60 C475.13,145.83 476.92,146.32 480.00,146.50 C483.08,146.68 487.00,146.67 490.00,146.70 C493.00,146.73 496.00,146.52 498.00,146.70 C500.00,146.88 500.50,147.17 502.00,147.80 C503.50,148.43 505.33,149.63 507.00,150.50 C508.67,151.37 510.33,152.33 512.00,153.00 C513.67,153.67 515.33,154.12 517.00,154.50 C518.67,154.88 520.33,155.10 522.00,155.30 C523.67,155.50 526.17,155.63 527.00,155.70" stroke="#d01616" stroke-width="1.5" fill="none"/><g transform="translate(12.4,49.0) rotate(-90)"><text x="0" y="0" text-anchor="middle" font-size="8.0">Hip joint torque</text><text x="0" y="9.5" text-anchor="middle" font-size="8.0">(Nm/kg)</text></g><g transform="translate(12.4,125.4) rotate(-90)"><text x="0" y="0" text-anchor="middle" font-size="8.0">Knee joint torque</text><text x="0" y="9.5" text-anchor="middle" font-size="8.0">(Nm/kg)</text></g><g transform="translate(286.2,49.0) rotate(-90)"><text x="0" y="0" text-anchor="middle" font-size="8.0">Hip joint torque</text><text x="0" y="9.5" text-anchor="middle" font-size="8.0">(Nm/kg)</text></g><g transform="translate(286.2,125.4) rotate(-90)"><text x="0" y="0" text-anchor="middle" font-size="8.0">Knee joint torque</text><text x="0" y="9.5" text-anchor="middle" font-size="8.0">(Nm/kg)</text></g><text x="148.7" y="12" text-anchor="middle" font-size="8" font-weight="bold">1.5 m/s Walking</text><text x="415.3" y="12" text-anchor="middle" font-size="8" font-weight="bold">2.5 m/s Running</text><text x="158" y="277.6" text-anchor="middle" font-size="7.7">Gait cycle (%)</text><text x="425" y="277.6" text-anchor="middle" font-size="7.7">Gait cycle (%)</text><text x="147.2" y="291.8" font-size="9.6">(</text><text x="151.9" y="292.6" font-size="10" font-weight="bold">a</text><text x="159.2" y="292" font-size="9.6">)</text><text x="415.09999999999997" y="291.8" font-size="9.6">(</text><text x="419.79999999999995" y="292.6" font-size="10" font-weight="bold">b</text><text x="427.09999999999997" y="292" font-size="9.6">)</text>
<text x="71.2" y="171.8" text-anchor="middle" font-size="7.65" style="stroke-width:0.2px">Leg extension</text><text x="236.2" y="172.0" text-anchor="middle" font-size="7.65" style="stroke-width:0.2px">Leg swing</text><text x="17.8" y="201.0" text-anchor="middle" font-size="7.65" style="stroke-width:0.2px">Gluteus</text><text x="17.8" y="210.5" text-anchor="middle" font-size="7.65" style="stroke-width:0.2px">maximus</text><text x="44.1" y="240.0" text-anchor="middle" font-size="7.65" style="stroke-width:0.2px">Rectus</text><text x="44.1" y="249.2" text-anchor="middle" font-size="7.65" style="stroke-width:0.2px">femoris</text><text x="82.3" y="201.1" text-anchor="middle" font-size="7.65" style="stroke-width:0.2px">Hip</text><text x="82.3" y="210.1" text-anchor="middle" font-size="7.65" style="stroke-width:0.2px">extension</text><text x="86.0" y="237.2" text-anchor="middle" font-size="7.65" style="stroke-width:0.2px">Co-contraction</text><text x="133.5" y="233.1" text-anchor="middle" font-size="7.65" style="stroke-width:0.2px">Knee</text><text x="133.5" y="242.1" text-anchor="middle" font-size="7.65" style="stroke-width:0.2px">extension</text><text x="169.9" y="207.7" text-anchor="middle" font-size="7.65" style="stroke-width:0.2px">Semitendinosus</text><text x="236.5" y="201.1" text-anchor="middle" font-size="7.65" style="stroke-width:0.2px">Hip</text><text x="236.5" y="210.1" text-anchor="middle" font-size="7.65" style="stroke-width:0.2px">extension</text><text x="239.0" y="232.2" text-anchor="middle" font-size="7.65" style="stroke-width:0.2px">Double</text><text x="239.0" y="241.2" text-anchor="middle" font-size="7.65" style="stroke-width:0.2px">actuation</text><text x="289.8" y="239.4" text-anchor="middle" font-size="7.65" style="stroke-width:0.2px">Knee</text><text x="289.8" y="248.5" text-anchor="middle" font-size="7.65" style="stroke-width:0.2px">flexion</text><text x="342.5" y="172.1" text-anchor="middle" font-size="7.65" style="stroke-width:0.2px">Leg extension</text><text x="500.2" y="172.1" text-anchor="middle" font-size="7.65" style="stroke-width:0.2px">Leg swing</text><text x="293.0" y="189.0" text-anchor="middle" font-size="7.65" style="stroke-width:0.2px">Gluteus</text><text x="293.0" y="198.6" text-anchor="middle" font-size="7.65" style="stroke-width:0.2px">maximus</text><text x="326.8" y="195.9" text-anchor="middle" font-size="7.65" style="stroke-width:0.2px">Rectus</text><text x="326.8" y="205.2" text-anchor="middle" font-size="7.65" style="stroke-width:0.2px">femoris</text><text x="352.3" y="200.9" text-anchor="middle" font-size="7.65" style="stroke-width:0.2px">Hip</text><text x="352.3" y="210.0" text-anchor="middle" font-size="7.65" style="stroke-width:0.2px">extension</text><text x="347.6" y="237.2" text-anchor="middle" font-size="7.65" style="stroke-width:0.2px">Co-contraction</text><text x="397.0" y="232.6" text-anchor="middle" font-size="7.65" style="stroke-width:0.2px">Knee</text><text x="397.0" y="241.5" text-anchor="middle" font-size="7.65" style="stroke-width:0.2px">extension</text><text x="431.5" y="221.1" text-anchor="middle" font-size="7.65" style="stroke-width:0.2px">Semitendinosus</text><text x="494.0" y="201.0" text-anchor="middle" font-size="7.65" style="stroke-width:0.2px">Hip</text><text x="494.0" y="210.1" text-anchor="middle" font-size="7.65" style="stroke-width:0.2px">extension</text><text x="534.6" y="207.5" text-anchor="middle" font-size="7.65" style="stroke-width:0.2px">Knee</text><text x="534.6" y="217.1" text-anchor="middle" font-size="7.65" style="stroke-width:0.2px">flexion</text><text x="496.5" y="232.1" text-anchor="middle" font-size="7.65" style="stroke-width:0.2px">Double</text><text x="496.5" y="240.7" text-anchor="middle" font-size="7.65" style="stroke-width:0.2px">actuation</text>
</svg>
</body></html>
